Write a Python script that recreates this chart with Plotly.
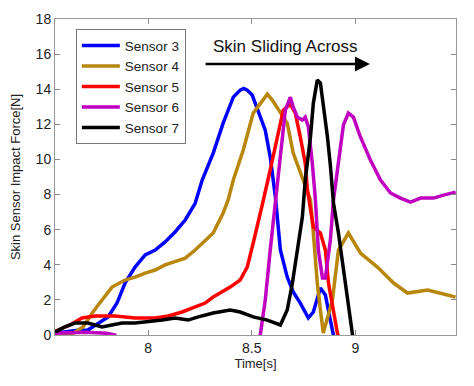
import plotly.graph_objects as go

# Sensor 3 (blue)
s3_t = [7.55, 7.65, 7.710, 7.758, 7.807, 7.850, 7.889, 7.937, 7.986, 8.034, 8.082, 8.130, 8.179, 8.227,
        8.261, 8.314, 8.362, 8.411, 8.444, 8.461, 8.478, 8.502, 8.531, 8.565, 8.589, 8.614, 8.638, 8.671,
        8.700, 8.734, 8.773, 8.797, 8.831, 8.855, 8.879, 8.894, 8.91, 9.485]
s3_y = [0.1, 0.25, 0.28, 0.68, 1.03, 1.82, 2.96, 3.87, 4.56, 4.84, 5.30, 5.87, 6.55, 7.50,
        8.83, 10.36, 12.07, 13.55, 13.95, 14.05, 13.95, 13.67, 12.81, 11.67, 10.14, 7.86, 4.84, 3.30,
        2.45, 1.82, 0.97, 1.31, 2.68, 2.28, 0.85, 0.0, -0.5, -0.5]

# Sensor 4 (brown)
s4_t = [7.55, 7.64, 7.686, 7.734, 7.778, 7.826, 7.889, 7.937, 7.986, 8.034, 8.082, 8.130, 8.179, 8.227,
        8.275, 8.314, 8.362, 8.386, 8.411, 8.459, 8.507, 8.551, 8.575, 8.599, 8.638, 8.671, 8.700,
        8.734, 8.783, 8.797, 8.816, 8.831, 8.845, 8.889, 8.918, 8.966, 9.024, 9.106, 9.184, 9.251,
        9.348, 9.444, 9.483]
s4_y = [0.05, 0.1, 0.46, 1.31, 1.99, 2.73, 3.13, 3.30, 3.53, 3.70, 3.99, 4.16, 4.38, 4.84,
        5.41, 5.81, 6.95, 7.69, 8.83, 10.54, 12.64, 13.38, 13.72, 13.38, 12.64, 12.07, 10.36,
        9.23, 7.69, 5.81, 2.96, 1.42, 0.11, 1.99, 4.84, 5.81, 4.67, 3.87, 2.96, 2.39,
        2.56, 2.28, 2.16]

# Sensor 5 (red)
s5_t = [7.551, 7.623, 7.681, 7.744, 7.841, 7.937, 8.034, 8.097, 8.164, 8.227, 8.275, 8.314, 8.396,
        8.444, 8.478, 8.507, 8.531, 8.556, 8.589, 8.623, 8.652, 8.686, 8.710, 8.734, 8.758,
        8.768, 8.797, 8.831, 8.855, 8.870, 8.894, 8.913, 8.93, 9.485]
s5_y = [0.2, 0.57, 0.97, 1.08, 1.08, 0.97, 0.97, 1.08, 1.31, 1.59, 1.82, 2.16, 2.73,
        3.13, 3.87, 5.24, 6.55, 7.69, 9.40, 11.28, 12.81, 13.15, 12.64, 11.28, 9.79,
        8.3, 6.15, 5.81, 4.84, 2.96, 1.42, 0.11, -0.5, -0.5]

# Sensor 6 (magenta)
s6_t = [7.55, 7.70, 7.80, 7.84, 7.86, 8.52, 8.541, 8.565, 8.589, 8.614, 8.628, 8.647, 8.662, 8.686,
        8.700, 8.720, 8.744, 8.758, 8.773, 8.792, 8.807, 8.821, 8.841, 8.855, 8.879, 8.894,
        8.918, 8.942, 8.966, 8.990, 9.024, 9.072, 9.121, 9.169, 9.217, 9.266, 9.314, 9.377,
        9.425, 9.483]
s6_y = [0.1, 0.15, 0.1, 0.0, -0.5, -0.5, 0.0, 1.99, 4.84, 7.69, 9.40, 11.28, 12.81, 13.55,
        12.98, 12.41, 12.24, 12.41, 11.85, 9.79, 7.69, 4.84, 3.25, 3.25, 5.41, 7.69,
        9.97, 11.96, 12.64, 12.41, 11.28, 9.97, 8.83, 8.09, 7.80, 7.57, 7.80, 7.80,
        7.97, 8.14]

# Sensor 7 (black)
s7_t = [7.551, 7.599, 7.647, 7.710, 7.778, 7.826, 7.874, 7.937, 8.000, 8.068, 8.130, 8.193, 8.242,
        8.314, 8.396, 8.444, 8.507, 8.575, 8.638, 8.671, 8.696, 8.720, 8.744, 8.758, 8.783,
        8.797, 8.816, 8.831, 8.845, 8.865, 8.879, 8.894, 8.918, 8.942, 8.966, 8.986, 9.0, 9.485]
s7_y = [0.17, 0.46, 0.68, 0.68, 0.46, 0.57, 0.68, 0.68, 0.74, 0.85, 0.97, 0.85, 1.03,
        1.25, 1.42, 1.31, 1.03, 0.85, 0.57, 1.42, 2.96, 4.84, 6.72, 8.83, 11.28,
        13.21, 14.52, 14.35, 13.21, 11.28, 9.68, 7.52, 5.81, 3.87, 1.59, 0.0, -0.5, -0.5]

series = [
    ("Sensor 3", s3_t, s3_y, "#0000FF"),
    ("Sensor 4", s4_t, s4_y, "#B8860B"),
    ("Sensor 5", s5_t, s5_y, "#FF0000"),
    ("Sensor 6", s6_t, s6_y, "#C000C0"),
    ("Sensor 7", s7_t, s7_y, "#000000"),
]

x_ticks = [8, 8.5, 9]
x_tick_labels = ["8", "8.5", "9"]
y_ticks = [0, 2, 4, 6, 8, 10, 12, 14, 16, 18]

fig = go.Figure()
for name, t, y, c in series:
    fig.add_trace(go.Scatter(x=t, y=y, mode="lines", name=name,
                             line=dict(color=c, width=3.5)))

FAM = "Liberation Sans, Arial, sans-serif"
font = dict(family=FAM, size=14, color="#222222")

# the page body adds an 8px offset; size the figure so the plot area lands where the reference has it
fig.update_layout(
    width=466, height=378,
    margin=dict(l=47, r=18, t=11, b=51),
    paper_bgcolor="white", plot_bgcolor="white",
    font=font,
    showlegend=True,
    legend=dict(x=0.052, y=0.968, xanchor="left", yanchor="top",
                bgcolor="white", bordercolor="#777777", borderwidth=1,
                font=dict(family=FAM, size=13.5, color="#222222"),
                tracegroupgap=0, itemwidth=38),
    xaxis=dict(range=[7.551, 9.485], tickvals=x_ticks, ticktext=x_tick_labels,
               ticks="inside", ticklen=5, tickcolor="#888888",
               showline=True, linecolor="#999999", linewidth=1, mirror="ticks",
               showgrid=False, zeroline=False, automargin=False,
               title=dict(text="Time[s]", standoff=2, font=dict(size=13))),
    yaxis=dict(range=[0, 18], tickvals=y_ticks,
               ticks="inside", ticklen=5, tickcolor="#888888",
               showline=True, linecolor="#999999", linewidth=1, mirror="ticks",
               showgrid=False, zeroline=False, automargin=False,
               title=dict(text="Skin Sensor Impact Force[N]", standoff=13, font=dict(size=13))),
)

fig.add_annotation(x=9.07, y=15.43, ax=8.27, ay=15.43, xref="x", yref="y", axref="x", ayref="y",
                   showarrow=True, arrowhead=2, arrowsize=1.2, arrowwidth=2.5, arrowcolor="black",
                   text="")
fig.add_annotation(x=8.662, y=16.46, xref="x", yref="y", text="Skin Sliding Across",
                   showarrow=False, font=dict(family=FAM, size=17, color="#111111"))

fig.write_html("out.html")
